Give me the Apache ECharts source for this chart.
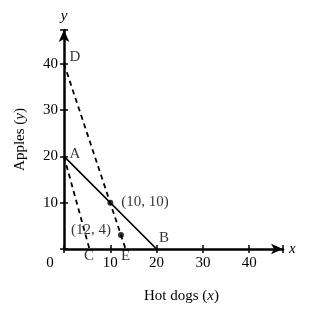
<!DOCTYPE html>
<html>
<head>
<meta charset="utf-8">
<script src="https://cdn.jsdelivr.net/npm/echarts@6/dist/echarts.min.js"></script>
<style>
  html, body { margin: 0; padding: 0; background: #fff; }
  #chart { width: 309px; height: 325px; }
</style>
</head>
<body>
<div id="chart"></div>
<script>
// values
const axisMax = 47.3;
const tickStep = 10;
const lineAB = [[0, 20], [20, 0]];
const lineDE = [[0, 40], [13.3, 0]];
const lineAC = [[0, 20], [5.5, 0]];
const dotPoints = [[10, 10], [12.3, 3]];
const dotLabels = ['(10, 10)', '(12, 4)'];
const letterPoints = [[0, 40], [0, 20], [20, 0], [5.5, 0], [13.3, 0]];
const letterNames = ['D', 'A', 'B', 'C', 'E'];

const font = 'Liberation Serif';
const letterOffsets = [[6, -14], [6, -9], [3, -18], [-5, 0], [-4, 0]];
const dotLabelPos = [{ position: 'right', distance: 8, offset: [0, -1] }, { position: 'left', distance: 7, offset: [0, -5] }];

const chart = echarts.init(document.getElementById('chart'));

const baseAxis = {
  type: 'value',
  min: 0,
  max: axisMax,
  interval: tickStep,
  splitLine: { show: false }
};

const option = {
  animation: false,
  grid: { left: 64, right: 26, top: 30, bottom: 76 },
  textStyle: { fontFamily: font, color: '#000' },
  xAxis: [
    Object.assign({}, baseAxis, {
      position: 'bottom',
      axisLine: { show: true, symbol: ['none', 'arrow'], symbolSize: [8, 12], lineStyle: { color: '#000', width: 2.5 } },
      axisTick: { show: true, inside: false, length: 4, lineStyle: { color: '#000', width: 1.5 } },
      axisLabel: {
        margin: 7, fontSize: 15, fontFamily: font, color: '#000',
        formatter: (v) => v === 0 ? '{o|0}' : (v % tickStep === 0 ? String(v) : ''),
        rich: { o: { fontSize: 15, fontFamily: font, color: '#000', padding: [0, 28, 0, 0] } }
      },
      name: 'Hot dogs ({i|x})',
      nameLocation: 'middle',
      nameGap: 40,
      nameTextStyle: {
        fontSize: 15, fontFamily: font, color: '#000', padding: [0, 0, 0, 16],
        rich: { i: { fontSize: 15, fontFamily: font, color: '#000', fontStyle: 'italic' } }
      }
    }),
    Object.assign({}, baseAxis, {
      position: 'bottom',
      axisLine: { show: false },
      axisTick: { show: true, inside: true, length: 4, lineStyle: { color: '#000', width: 1.5 } },
      axisLabel: { show: false },
      name: 'x',
      nameLocation: 'end',
      nameGap: 6,
      nameTextStyle: { fontSize: 15, fontFamily: font, fontStyle: 'italic', color: '#000' }
    })
  ],
  yAxis: [
    Object.assign({}, baseAxis, {
      position: 'left',
      axisLine: { show: true, symbol: ['none', 'arrow'], symbolSize: [8, 12], lineStyle: { color: '#000', width: 2.5 } },
      axisTick: { show: true, inside: false, length: 4, lineStyle: { color: '#000', width: 1.5 } },
      axisLabel: {
        margin: 6, fontSize: 15, fontFamily: font, color: '#000',
        formatter: (v) => (v !== 0 && v % tickStep === 0) ? String(v) : ''
      },
      name: 'Apples ({i|y})',
      nameLocation: 'middle',
      nameGap: 36,
      nameTextStyle: {
        fontSize: 15, fontFamily: font, color: '#000',
        rich: { i: { fontSize: 15, fontFamily: font, color: '#000', fontStyle: 'italic' } }
      }
    }),
    Object.assign({}, baseAxis, {
      position: 'left',
      axisLine: { show: false },
      axisTick: { show: true, inside: true, length: 4, lineStyle: { color: '#000', width: 1.5 } },
      axisLabel: { show: false },
      name: 'y',
      nameLocation: 'end',
      nameGap: 6,
      nameTextStyle: { fontSize: 15, fontFamily: font, fontStyle: 'italic', color: '#000' }
    })
  ],
  series: [
    {
      type: 'line', data: lineAB, symbol: 'none',
      lineStyle: { color: '#000', width: 1.6 }
    },
    {
      type: 'line', data: lineDE, symbol: 'none',
      lineStyle: { color: '#000', width: 1.8, type: [5, 4] }
    },
    {
      type: 'line', data: lineAC, symbol: 'none',
      lineStyle: { color: '#000', width: 1.8, type: [5, 4] }
    },
    {
      type: 'scatter', symbolSize: 6,
      itemStyle: { color: '#000' },
      data: dotPoints.map((p, i) => ({
        value: p,
        label: Object.assign({
          show: true, formatter: dotLabels[i],
          fontSize: 15, fontFamily: font, color: '#000'
        }, dotLabelPos[i])
      }))
    },
    {
      type: 'scatter', symbolSize: 1,
      itemStyle: { color: 'transparent' },
      data: letterPoints.map((p, i) => ({
        value: p,
        label: {
          show: true, formatter: letterNames[i], position: letterOffsets[i],
          fontSize: 15, fontFamily: font, color: '#000'
        }
      }))
    }
  ]
};

chart.setOption(option);
</script>
</body>
</html>
